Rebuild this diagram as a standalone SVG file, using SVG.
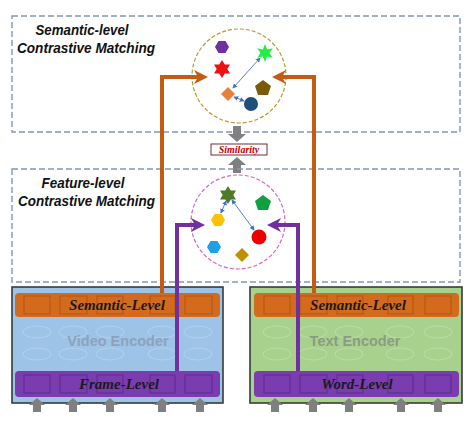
<svg xmlns="http://www.w3.org/2000/svg" width="474" height="424" viewBox="0 0 474 424">
<style>
.zone{fill:none;stroke:#8497b0;stroke-width:1.4;stroke-dasharray:6,3}
.title{font-family:"Liberation Sans",Arial,sans-serif;font-weight:bold;font-style:italic;font-size:14px;fill:#111}
.lvl{font-family:"Liberation Serif","Times New Roman",serif;font-weight:bold;font-style:italic;font-size:15px;fill:#1a1a1a;text-anchor:middle}
.enc{font-family:"Liberation Sans",Arial,sans-serif;font-weight:bold;font-size:14.5px;text-anchor:middle}
.box{stroke:#3a3a3a;stroke-width:1.6}
.sem{fill:#d46a1c}
.frm{fill:#7a3db0}
.cell{fill:none;stroke-width:1}
.net{fill:none;stroke:#ffffff;stroke-opacity:0.22;stroke-width:1}
.gray{fill:#808080}
.thin{fill:none;stroke:#4472c4;stroke-width:0.9;marker-start:url(#bh);marker-end:url(#bh)}
.orange{fill:none;stroke:#c55a11;stroke-width:4;marker-end:url(#oh)}
.purple{fill:none;stroke:#7030a0;stroke-width:4;marker-end:url(#ph)}
</style>
<defs>
<marker id="oh" markerUnits="userSpaceOnUse" viewBox="0 0 14 14" markerWidth="14" markerHeight="14" refX="4" refY="7" orient="auto"><path d="M0,0 L14,7 L0,14 L4,7 z" fill="#c55a11"/></marker>
<marker id="ph" markerUnits="userSpaceOnUse" viewBox="0 0 14 14" markerWidth="14" markerHeight="14" refX="4" refY="7" orient="auto"><path d="M0,0 L14,7 L0,14 L4,7 z" fill="#7030a0"/></marker>
<marker id="bh" markerUnits="userSpaceOnUse" viewBox="0 0 6 6" markerWidth="5" markerHeight="5" refX="5" refY="3" orient="auto-start-reverse"><path d="M0,0 L6,3 L0,6 z" fill="#4472c4"/></marker>
</defs>

<g id="semantic-zone">
<rect class="zone" x="12" y="16" width="448" height="116"/>
<text class="title" x="82" y="35" text-anchor="middle" textLength="93" lengthAdjust="spacingAndGlyphs">Semantic-level</text>
<text class="title" x="17" y="53" textLength="138" lengthAdjust="spacingAndGlyphs">Contrastive Matching</text>
</g>

<g id="semantic-space">
<circle cx="239" cy="76" r="47" fill="none" stroke="#b89a2a" stroke-width="1.2" stroke-dasharray="4,2"/>
<polygon points="229,47 225.5,53 218.5,53 215,47 218.5,41 225.5,41" fill="#7030a0"/>
<polygon points="265,44 267.2,49.6 272.8,48.2 269.5,53 272.8,57.8 267.2,56.4 265,62 262.8,56.4 257.2,57.8 260.5,53 257.2,48.2 262.8,49.6" fill="#22ee44"/>
<polygon points="222,60 224.8,64.5 230,64.5 227.3,69 230,73.5 224.8,73.5 222,78 219.2,73.5 214,73.5 216.7,69 214,64.5 219.2,64.5" fill="#ee1111"/>
<polygon points="263,80 271,86 268,95 258,95 255,86" fill="#7a5a08"/>
<polygon points="228,87 235,94 228,101 221,94" fill="#e8803a"/>
<circle cx="251" cy="104" r="7" fill="#1f4e79"/>
<path class="thin" d="M233,88 L260,58"/>
<path class="thin" d="M234,97 L244,101"/>
</g>

<g id="similarity">
<polygon class="gray" points="233,126 241,126 241,134 246,134 237,142 228,134 233,134"/>
<rect x="211" y="144" width="56" height="11" fill="#fff" stroke="#6a3030" stroke-width="1"/>
<text x="239" y="153" text-anchor="middle" font-family="Liberation Serif,'Times New Roman',serif" font-weight="bold" font-style="italic" font-size="10" fill="#c00000">Similarity</text>
<polygon class="gray" points="233,173 241,173 241,165 246,165 237,157 228,165 233,165"/>
</g>

<g id="feature-zone">
<rect class="zone" x="12" y="169" width="448" height="113"/>
<text class="title" x="83" y="188" text-anchor="middle" textLength="83" lengthAdjust="spacingAndGlyphs">Feature-level</text>
<text class="title" x="18" y="206" textLength="137" lengthAdjust="spacingAndGlyphs">Contrastive Matching</text>
</g>

<g id="feature-space">
<circle cx="238" cy="222" r="47" fill="none" stroke="#d966b8" stroke-width="1.2" stroke-dasharray="4,2"/>
<polygon points="228,186 230.8,190.5 236,190.5 233.3,195 236,199.5 230.8,199.5 228,204 225.2,199.5 220,199.5 222.7,195 220,190.5 225.2,190.5" fill="#4e7a2a"/>
<polygon points="263,195 271,201 268,210 258,210 255,201" fill="#10a040"/>
<polygon points="225,220 221.5,226 214.5,226 211,220 214.5,214 221.5,214" fill="#ffc000"/>
<circle cx="259" cy="237" r="7.5" fill="#ee0000"/>
<polygon points="221,247 217.5,253 210.5,253 207,247 210.5,241 217.5,241" fill="#1ea0e8"/>
<polygon points="242,248 249,255 242,262 235,255" fill="#bf9000"/>
<path class="thin" d="M226,201 L221,213"/>
<path class="thin" d="M232,200 L254,230"/>
</g>

<g id="video-encoder">
<rect class="box" x="12" y="287" width="211" height="116" fill="#9dc3e6"/>
<g class="net">
<ellipse cx="37" cy="332" rx="14" ry="6"/><ellipse cx="73" cy="332" rx="14" ry="6"/><ellipse cx="110" cy="332" rx="14" ry="6"/><ellipse cx="162" cy="332" rx="14" ry="6"/><ellipse cx="198" cy="332" rx="14" ry="6"/>
<ellipse cx="37" cy="354" rx="14" ry="6"/><ellipse cx="73" cy="354" rx="14" ry="6"/><ellipse cx="110" cy="354" rx="14" ry="6"/><ellipse cx="162" cy="354" rx="14" ry="6"/><ellipse cx="198" cy="354" rx="14" ry="6"/>
</g>
<rect class="sem" x="15" y="293" width="205" height="24" rx="4"/>
<g class="cell" stroke="#b0561a">
<rect x="24" y="296" width="26" height="18"/><rect x="60" y="296" width="27" height="18"/><rect x="97" y="296" width="26" height="18"/><rect x="150" y="296" width="25" height="18"/><rect x="185" y="296" width="27" height="18"/>
</g>
<text class="lvl" x="117" y="310">Semantic-Level</text>
<text class="enc" x="118" y="346" fill="#8ea2bc">Video Encoder</text>
<rect class="frm" x="15" y="371" width="205" height="26" rx="4"/>
<g class="cell" stroke="#5e2a90">
<rect x="24" y="375" width="26" height="18"/><rect x="60" y="375" width="27" height="18"/><rect x="97" y="375" width="26" height="18"/><rect x="150" y="375" width="25" height="18"/><rect x="185" y="375" width="27" height="18"/>
</g>
<text class="lvl" x="119" y="389">Frame-Level</text>
<g class="gray">
<polygon points="37,398 45,405 41,405 41,412 33,412 33,405 29,405"/>
<polygon points="73,398 81,405 77,405 77,412 69,412 69,405 65,405"/>
<polygon points="110,398 118,405 114,405 114,412 106,412 106,405 102,405"/>
<polygon points="162,398 170,405 166,405 166,412 158,412 158,405 154,405"/>
<polygon points="200,398 208,405 204,405 204,412 196,412 196,405 192,405"/>
</g>
</g>

<g id="text-encoder">
<rect class="box" x="250" y="287" width="212" height="116" fill="#a9d18e"/>
<g class="net">
<ellipse cx="277" cy="332" rx="14" ry="6"/><ellipse cx="313" cy="332" rx="14" ry="6"/><ellipse cx="349" cy="332" rx="14" ry="6"/><ellipse cx="400" cy="332" rx="14" ry="6"/><ellipse cx="438" cy="332" rx="14" ry="6"/>
<ellipse cx="277" cy="354" rx="14" ry="6"/><ellipse cx="313" cy="354" rx="14" ry="6"/><ellipse cx="349" cy="354" rx="14" ry="6"/><ellipse cx="400" cy="354" rx="14" ry="6"/><ellipse cx="438" cy="354" rx="14" ry="6"/>
</g>
<rect class="sem" x="254" y="293" width="205" height="24" rx="4"/>
<g class="cell" stroke="#b0561a">
<rect x="264" y="296" width="26" height="18"/><rect x="300" y="296" width="27" height="18"/><rect x="337" y="296" width="26" height="18"/><rect x="388" y="296" width="25" height="18"/><rect x="425" y="296" width="26" height="18"/>
</g>
<text class="lvl" x="358" y="310">Semantic-Level</text>
<text class="enc" x="355" y="346" fill="#8c9c84">Text Encoder</text>
<rect class="frm" x="254" y="371" width="205" height="26" rx="4"/>
<g class="cell" stroke="#5e2a90">
<rect x="264" y="375" width="26" height="18"/><rect x="300" y="375" width="27" height="18"/><rect x="337" y="375" width="26" height="18"/><rect x="388" y="375" width="25" height="18"/><rect x="425" y="375" width="26" height="18"/>
</g>
<text class="lvl" x="357" y="389">Word-Level</text>
<g class="gray">
<polygon points="275,398 283,405 279,405 279,412 271,412 271,405 267,405"/>
<polygon points="313,398 321,405 317,405 317,412 309,412 309,405 305,405"/>
<polygon points="349,398 357,405 353,405 353,412 345,412 345,405 341,405"/>
<polygon points="401,398 409,405 405,405 405,412 397,412 397,405 393,405"/>
<polygon points="438,398 446,405 442,405 442,412 434,412 434,405 430,405"/>
</g>
</g>

<g id="connectors">
<path class="orange" d="M162,293 V77 H198"/>
<path class="orange" d="M314,293 V77 H282"/>
<path class="purple" d="M177,371 V225 H195"/>
<path class="purple" d="M298,371 V225 H277"/>
</g>
</svg>
